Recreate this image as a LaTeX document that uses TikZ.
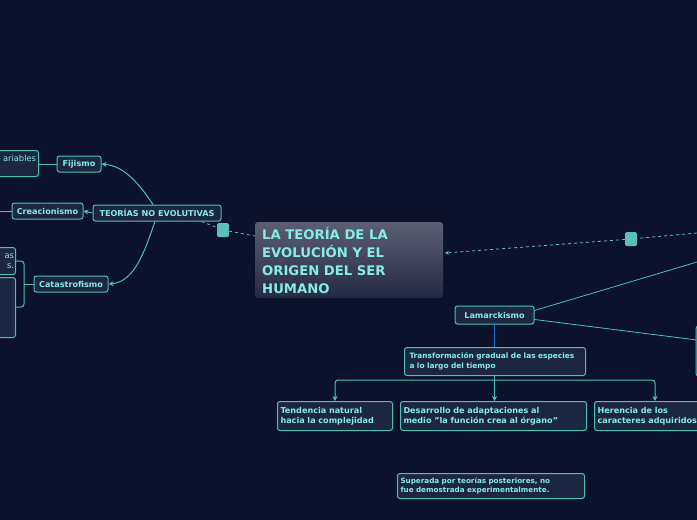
\documentclass[tikz,border=0pt]{standalone}
\usepackage{fontspec}
\setmainfont{DejaVu Sans}
\usetikzlibrary{arrows.meta}
\definecolor{bg}{HTML}{0B1229}
\definecolor{nf}{HTML}{1C2640}
\definecolor{tl}{HTML}{4FC1B9}
\definecolor{tx}{HTML}{86EDE4}
\definecolor{sq}{HTML}{5BBFB8}
\definecolor{bl}{HTML}{1F6FD0}
\definecolor{gtop}{HTML}{5C5F72}
\definecolor{gbot}{HTML}{242A42}
\begin{document}
\begin{tikzpicture}[x=1pt,y=-1pt,
 bx/.style={draw=tl,fill=nf,rounded corners=2.5pt,line width=1pt,text=tx,font=\bfseries\fontsize{8.1}{10}\selectfont,inner sep=0pt,align=left},
 cn/.style={draw=tl,line width=1pt},
 dl/.style={draw=sq,dashed,line width=0.8pt,dash pattern=on 3pt off 3pt},
 ar/.style={-{Stealth[length=5pt,width=5pt]}}]
\fill[bg] (0,0) rectangle (697,520);
\useasboundingbox (0,0) rectangle (697,520);
% central
\shade[top color=gtop, bottom color=gbot, rounded corners=3pt] (255,222) rectangle (443,298);
\node[anchor=north west,text=tx,font=\bfseries\fontsize{13.2}{18}\selectfont,align=left,inner sep=0pt] (c) at (262,227) {LA TEORÍA DE LA\\EVOLUCIÓN Y EL\\ORIGEN DEL SER\\HUMANO};
\coordinate (cl) at (255,236);
\coordinate (cr) at (445,253);
% squares
\node[fill=sq,rounded corners=1.5pt,minimum width=12pt,minimum height=14pt,inner sep=0pt] (s1) at (223,230) {};
\node[fill=sq,rounded corners=1.5pt,minimum width=12pt,minimum height=14pt,inner sep=0pt] (s2) at (631,239) {};
\coordinate (re) at (697,233);
% left nodes
\node[bx,minimum width=128pt,minimum height=16pt,align=center] (t) at (157,213) {TEORÍAS NO EVOLUTIVAS};
\node[bx,minimum width=44pt,minimum height=16pt,align=center] (f) at (79,164) {Fijismo};
\node[bx,minimum width=71pt,minimum height=16pt,align=center] (cr2) at (47.5,211) {Creacionismo};
\node[bx,minimum width=74pt,minimum height=16pt,align=center] (ca) at (71,284) {Catastrofismo};
\node[bx,minimum width=52pt,minimum height=26pt,font=\fontsize{8.3}{10}\selectfont,anchor=north east,align=right,text width=47pt] (va) at (39,150) {ariables\\\phantom{x}};
\node[bx,minimum width=22pt,minimum height=27pt,anchor=north east,font=\fontsize{8.3}{10}\selectfont,align=right,text width=19pt] (b1) at (16,247) {as\\s.};
\node[bx,minimum width=22pt,minimum height=60pt,anchor=north east] (b2) at (16,277) {};
\draw[dl] ([xshift=-20pt]t.south east) -- (s1);
\draw[dl] (s1) -- (cl);
\draw[dl] (re) -- (s2);
\draw[dl,-{Stealth[length=4pt,width=4pt]}] (s2) -- (cr);
\draw[cn,ar] ([xshift=-4pt]t.north) .. controls (140,185) and (125,166) .. (f.east);
\draw[cn,ar] (t.west) -- (cr2.east);
\draw[cn,ar] ([xshift=-2pt]t.south) .. controls (145,250) and (135,282) .. (ca.east);
\draw[cn] (f.west) -- (va.east|-f.west);
\draw[cn] (cr2.west) -- (0,211);
\draw[cn] (ca.west) -- (24,284);
\draw[cn,rounded corners=3pt] (b1.east|-0,261) -- (24,261) -- (24,307) -- (b2.east|-0,307);
% Lamarck
\node[bx,minimum width=79pt,minimum height=18pt,align=center] (l) at (494.5,315) {Lamarckismo};
\coordinate (r1) at (697,262);
\coordinate (r2) at (697,340);
\draw[draw=tl,line width=0.8pt] ([yshift=-5pt]l.north east) -- (r1);
\draw[draw=tl,line width=0.8pt] ([yshift=5pt]l.south east) -- (r2);
\draw[bx] (696,326) rectangle (705,376);
\node[bx,minimum width=181pt,minimum height=28pt,anchor=north west,text width=175pt,font=\bfseries\fontsize{7.4}{9.5}\selectfont] (tr) at (404,347) {\hspace*{2pt}Transformación gradual de las especies\\\hspace*{2pt}a lo largo del tiempo};
\draw[bl,line width=1.6pt] (l.south) -- (tr.north-|l.south);
\node[bx,minimum width=115pt,minimum height=29pt,anchor=north west,text width=109pt] (n1) at (277,401) {Tendencia natural\\hacia la complejidad};
\node[bx,minimum width=186pt,minimum height=29pt,anchor=north west,text width=180pt] (n2) at (400,401) {Desarrollo de adaptaciones al\\medio "la función crea al órgano"};
\node[bx,minimum width=110pt,minimum height=29pt,anchor=north west,text width=104pt] (n3) at (594,401) {Herencia de los\\caracteres adquiridos};
\coordinate (j) at (494.5,380);
\draw[cn] (tr.south-|j) -- (j);
\draw[cn,ar,rounded corners=3pt] (j) -- (335,380) -- (335,401);
\draw[cn,ar,rounded corners=3pt] (j) -- (655,380) -- (655,401);
\draw[cn,ar] (j) -- (494.5,401);
\node[bx,minimum width=187pt,minimum height=25pt,anchor=north west,text width=181pt,font=\bfseries\fontsize{7.2}{9}\selectfont] (sp) at (397,473) {Superada por teorías posteriores, no\\fue demostrada experimentalmente.};
\end{tikzpicture}
\end{document}
